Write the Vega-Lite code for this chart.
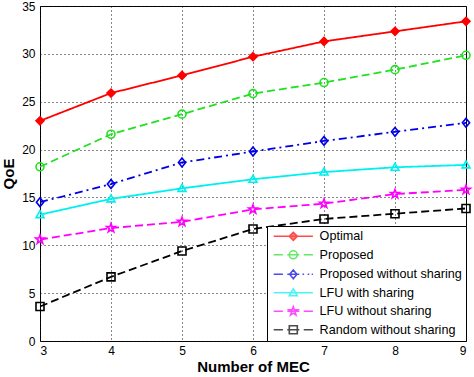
{
  "$schema": "https://vega.github.io/schema/vega-lite/v6.json",
  "width": 426,
  "height": 335,
  "autosize": {"type": "none"},
  "padding": {"left": 40, "top": 6, "right": 8, "bottom": 36},
  "background": "white",
  "config": {
    "font": "Liberation Sans",
    "view": {"stroke": "black", "strokeWidth": 1},
    "axis": {
      "domain": false,
      "ticks": false,
      "grid": true,
      "gridColor": "#111111",
      "gridDash": [1, 3],
      "gridWidth": 1,
      "gridOpacity": 1,
      "labelFont": "Liberation Sans",
      "labelFontSize": 12,
      "labelColor": "black",
      "titleFont": "Liberation Sans",
      "titleFontSize": 15,
      "titleFontWeight": "bold",
      "titleColor": "black"
    },
    "legend": {
      "title": null,
      "orient": "bottom-right",
      "offset": 0,
      "padding": 4,
      "strokeColor": "black",
      "fillColor": "white",
      "cornerRadius": 0,
      "labelFont": "Liberation Sans",
      "labelFontSize": 12.6,
      "labelColor": "black",
      "labelLimit": 300,
      "symbolSize": 64,
      "symbolStrokeWidth": 1.6,
      "symbolOffset": 16,
      "labelOffset": 20,
      "rowPadding": 3.5
    }
  },
  "data": {
    "values": [
      {"mec": 3, "qoe": 23.0, "series": "Optimal"},
      {"mec": 4, "qoe": 25.9, "series": "Optimal"},
      {"mec": 5, "qoe": 27.75, "series": "Optimal"},
      {"mec": 6, "qoe": 29.7, "series": "Optimal"},
      {"mec": 7, "qoe": 31.3, "series": "Optimal"},
      {"mec": 8, "qoe": 32.35, "series": "Optimal"},
      {"mec": 9, "qoe": 33.4, "series": "Optimal"},
      {"mec": 3, "qoe": 18.2, "series": "Proposed"},
      {"mec": 4, "qoe": 21.6, "series": "Proposed"},
      {"mec": 5, "qoe": 23.7, "series": "Proposed"},
      {"mec": 6, "qoe": 25.85, "series": "Proposed"},
      {"mec": 7, "qoe": 27.0, "series": "Proposed"},
      {"mec": 8, "qoe": 28.35, "series": "Proposed"},
      {"mec": 9, "qoe": 29.85, "series": "Proposed"},
      {"mec": 3, "qoe": 14.5, "series": "Proposed without sharing"},
      {"mec": 4, "qoe": 16.4, "series": "Proposed without sharing"},
      {"mec": 5, "qoe": 18.65, "series": "Proposed without sharing"},
      {"mec": 6, "qoe": 19.8, "series": "Proposed without sharing"},
      {"mec": 7, "qoe": 20.9, "series": "Proposed without sharing"},
      {"mec": 8, "qoe": 21.85, "series": "Proposed without sharing"},
      {"mec": 9, "qoe": 22.8, "series": "Proposed without sharing"},
      {"mec": 3, "qoe": 13.2, "series": "LFU with sharing"},
      {"mec": 4, "qoe": 14.85, "series": "LFU with sharing"},
      {"mec": 5, "qoe": 15.95, "series": "LFU with sharing"},
      {"mec": 6, "qoe": 16.9, "series": "LFU with sharing"},
      {"mec": 7, "qoe": 17.65, "series": "LFU with sharing"},
      {"mec": 8, "qoe": 18.15, "series": "LFU with sharing"},
      {"mec": 9, "qoe": 18.4, "series": "LFU with sharing"},
      {"mec": 3, "qoe": 10.6, "series": "LFU without sharing"},
      {"mec": 4, "qoe": 11.8, "series": "LFU without sharing"},
      {"mec": 5, "qoe": 12.45, "series": "LFU without sharing"},
      {"mec": 6, "qoe": 13.75, "series": "LFU without sharing"},
      {"mec": 7, "qoe": 14.35, "series": "LFU without sharing"},
      {"mec": 8, "qoe": 15.35, "series": "LFU without sharing"},
      {"mec": 9, "qoe": 15.8, "series": "LFU without sharing"},
      {"mec": 3, "qoe": 3.6, "series": "Random without sharing"},
      {"mec": 4, "qoe": 6.7, "series": "Random without sharing"},
      {"mec": 5, "qoe": 9.4, "series": "Random without sharing"},
      {"mec": 6, "qoe": 11.7, "series": "Random without sharing"},
      {"mec": 7, "qoe": 12.75, "series": "Random without sharing"},
      {"mec": 8, "qoe": 13.3, "series": "Random without sharing"},
      {"mec": 9, "qoe": 13.85, "series": "Random without sharing"}
    ]
  },
  "encoding": {
    "x": {
      "field": "mec",
      "type": "quantitative",
      "scale": {"domain": [3, 9], "nice": false, "zero": false},
      "axis": {"title": "Number of MEC", "values": [3, 4, 5, 6, 7, 8, 9], "labelPadding": 4, "titlePadding": 3, "format": "d"}
    },
    "y": {
      "field": "qoe",
      "type": "quantitative",
      "scale": {"domain": [0, 35], "nice": false},
      "axis": {"title": "QoE", "values": [0, 5, 10, 15, 20, 25, 30, 35], "labelPadding": 5, "titlePadding": 5, "format": "d"}
    }
  },
  "resolve": {
    "scale": {"shape": "independent", "fill": "independent"},
    "legend": {"color": "independent", "shape": "independent", "fill": "independent"}
  },
  "layer": [
    {
      "mark": {"type": "line", "strokeWidth": 1.8},
      "encoding": {
        "color": {
          "field": "series",
          "type": "nominal",
          "scale": {
            "domain": ["Optimal", "Proposed", "Proposed without sharing", "LFU with sharing", "LFU without sharing", "Random without sharing"],
            "range": ["#ff0000", "#22e022", "#0000e6", "#00f0f0", "#ff00ff", "#000000"]
          },
          "legend": null
        },
        "strokeDash": {
          "field": "series",
          "type": "nominal",
          "scale": {
            "domain": ["Optimal", "Proposed", "Proposed without sharing", "LFU with sharing", "LFU without sharing", "Random without sharing"],
            "range": [[1, 0], [8, 4], [8, 4, 2, 4], [1, 0], [8, 4], [8, 4]]
          },
          "legend": null
        }
      }
    },
    {
      "mark": {"type": "point", "filled": false, "size": 64, "strokeWidth": 1.6, "opacity": 1},
      "encoding": {
        "shape": {
          "field": "series",
          "type": "nominal",
          "scale": {
            "domain": ["Optimal", "Proposed", "Proposed without sharing", "LFU with sharing", "LFU without sharing", "Random without sharing"],
            "range": [
              "M0,-1L1,0L0,1L-1,0Z",
              "circle",
              "M0,-1.1L0.9,0L0,1.1L-0.9,0Z",
              "M0,-1L1,0.75L-1,0.75Z",
              "M0,-1.15L0.27,-0.37L1.09,-0.36L0.44,0.14L0.68,0.93L0,0.46L-0.68,0.93L-0.44,0.14L-1.09,-0.36L-0.27,-0.37Z",
              "M-1,-1L1,-1L1,1L-1,1Z"
            ]
          },
          "legend": null
        },
        "color": {
          "field": "series",
          "type": "nominal",
          "scale": {
            "domain": ["Optimal", "Proposed", "Proposed without sharing", "LFU with sharing", "LFU without sharing", "Random without sharing"],
            "range": ["#ff0000", "#22e022", "#0000e6", "#00f0f0", "#ff00ff", "#000000"]
          },
          "legend": null
        }
      }
    },
    {
      "transform": [{"filter": "datum.series === 'Optimal'"}],
      "mark": {"type": "point", "filled": true, "size": 64, "color": "#ff0000", "opacity": 1, "shape": "M0,-1L1,0L0,1L-1,0Z"},
      "encoding": {}
    },
    {
      "mark": {"type": "point", "filled": false, "size": 0, "strokeWidth": 1.6},
      "encoding": {
        "color": {
          "field": "series",
          "type": "nominal",
          "scale": {
            "domain": ["Optimal", "Proposed", "Proposed without sharing", "LFU with sharing", "LFU without sharing", "Random without sharing"],
            "range": ["#ff0000", "#22e022", "#0000e6", "#00f0f0", "#ff00ff", "#000000"]
          },
          "legend": {}
        },
        "fill": {
          "field": "series",
          "type": "nominal",
          "scale": {
            "domain": ["Optimal", "Proposed", "Proposed without sharing", "LFU with sharing", "LFU without sharing", "Random without sharing"],
            "range": ["#ff0000", "transparent", "transparent", "transparent", "transparent", "transparent"]
          },
          "legend": {}
        },
        "shape": {
          "field": "series",
          "type": "nominal",
          "scale": {
            "domain": ["Optimal", "Proposed", "Proposed without sharing", "LFU with sharing", "LFU without sharing", "Random without sharing"],
            "range": [
              "M-4.9,0H4.9M0,-1L1,0L0,1L-1,0Z",
              "M-4.9,0H-2.6M-1.5,0H1.5M2.6,0H4.9M1,0A1,1,0,1,1,-1,0A1,1,0,1,1,1,0Z",
              "M-4.9,0H-2.6M-1.5,0H1.5M2.3,0H2.7M3.6,0H4M4.6,0H4.9M0,-1.1L0.9,0L0,1.1L-0.9,0Z",
              "M-4.9,0H4.9M0,-1L1,0.75L-1,0.75Z",
              "M-4.9,0H-2.6M-1.5,0H1.5M2.6,0H4.9M0,-1.15L0.27,-0.37L1.09,-0.36L0.44,0.14L0.68,0.93L0,0.46L-0.68,0.93L-0.44,0.14L-1.09,-0.36L-0.27,-0.37Z",
              "M-4.9,0H-2.6M-1.5,0H1.5M2.6,0H4.9M-1,-1L1,-1L1,1L-1,1Z"
            ]
          },
          "legend": {}
        }
      }
    }
  ]
}
